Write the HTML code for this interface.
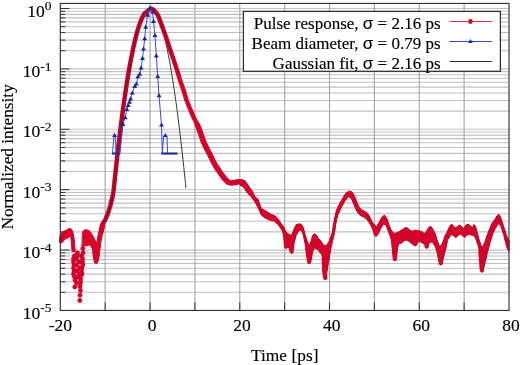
<!DOCTYPE html><html><head><meta charset="utf-8"><style>html,body{margin:0;padding:0;background:#fff;}svg{display:block;filter:blur(0.25px);}text{font-family:"Liberation Serif","DejaVu Serif",serif;fill:#000;stroke:#000;stroke-width:0.15px;}</style></head><body>
<svg width="520" height="365" viewBox="0 0 520 365">
<rect x="0" y="0" width="520" height="365" fill="#fff"/>
<g stroke="#c0c0c0" stroke-width="1.1">
<line x1="60.3" y1="292.32" x2="509.0" y2="292.32"/>
<line x1="60.3" y1="281.68" x2="509.0" y2="281.68"/>
<line x1="60.3" y1="274.14" x2="509.0" y2="274.14"/>
<line x1="60.3" y1="268.28" x2="509.0" y2="268.28"/>
<line x1="60.3" y1="263.50" x2="509.0" y2="263.50"/>
<line x1="60.3" y1="259.46" x2="509.0" y2="259.46"/>
<line x1="60.3" y1="255.95" x2="509.0" y2="255.95"/>
<line x1="60.3" y1="252.86" x2="509.0" y2="252.86"/>
<line x1="60.3" y1="250.10" x2="509.0" y2="250.10"/>
<line x1="60.3" y1="231.92" x2="509.0" y2="231.92"/>
<line x1="60.3" y1="221.28" x2="509.0" y2="221.28"/>
<line x1="60.3" y1="213.74" x2="509.0" y2="213.74"/>
<line x1="60.3" y1="207.88" x2="509.0" y2="207.88"/>
<line x1="60.3" y1="203.10" x2="509.0" y2="203.10"/>
<line x1="60.3" y1="199.06" x2="509.0" y2="199.06"/>
<line x1="60.3" y1="195.55" x2="509.0" y2="195.55"/>
<line x1="60.3" y1="192.46" x2="509.0" y2="192.46"/>
<line x1="60.3" y1="189.70" x2="509.0" y2="189.70"/>
<line x1="60.3" y1="171.52" x2="509.0" y2="171.52"/>
<line x1="60.3" y1="160.88" x2="509.0" y2="160.88"/>
<line x1="60.3" y1="153.34" x2="509.0" y2="153.34"/>
<line x1="60.3" y1="147.48" x2="509.0" y2="147.48"/>
<line x1="60.3" y1="142.70" x2="509.0" y2="142.70"/>
<line x1="60.3" y1="138.66" x2="509.0" y2="138.66"/>
<line x1="60.3" y1="135.15" x2="509.0" y2="135.15"/>
<line x1="60.3" y1="132.06" x2="509.0" y2="132.06"/>
<line x1="60.3" y1="129.30" x2="509.0" y2="129.30"/>
<line x1="60.3" y1="111.12" x2="509.0" y2="111.12"/>
<line x1="60.3" y1="100.48" x2="509.0" y2="100.48"/>
<line x1="60.3" y1="92.94" x2="509.0" y2="92.94"/>
<line x1="60.3" y1="87.08" x2="509.0" y2="87.08"/>
<line x1="60.3" y1="82.30" x2="509.0" y2="82.30"/>
<line x1="60.3" y1="78.26" x2="509.0" y2="78.26"/>
<line x1="60.3" y1="74.75" x2="509.0" y2="74.75"/>
<line x1="60.3" y1="71.66" x2="509.0" y2="71.66"/>
<line x1="60.3" y1="68.90" x2="509.0" y2="68.90"/>
<line x1="60.3" y1="50.72" x2="509.0" y2="50.72"/>
<line x1="60.3" y1="40.08" x2="509.0" y2="40.08"/>
<line x1="60.3" y1="32.54" x2="509.0" y2="32.54"/>
<line x1="60.3" y1="26.68" x2="509.0" y2="26.68"/>
<line x1="60.3" y1="21.90" x2="509.0" y2="21.90"/>
<line x1="60.3" y1="17.86" x2="509.0" y2="17.86"/>
<line x1="60.3" y1="14.35" x2="509.0" y2="14.35"/>
<line x1="60.3" y1="11.26" x2="509.0" y2="11.26"/>
<line x1="60.3" y1="8.50" x2="509.0" y2="8.50"/>
</g>
<g stroke="#aaaaaa" stroke-width="1.2">
<line x1="105.18" y1="3.45" x2="105.18" y2="310.45"/>
<line x1="150.05" y1="3.45" x2="150.05" y2="310.45"/>
<line x1="194.92" y1="3.45" x2="194.92" y2="310.45"/>
<line x1="239.79" y1="3.45" x2="239.79" y2="310.45"/>
<line x1="284.66" y1="3.45" x2="284.66" y2="310.45"/>
<line x1="329.53" y1="3.45" x2="329.53" y2="310.45"/>
<line x1="374.40" y1="3.45" x2="374.40" y2="310.45"/>
<line x1="419.27" y1="3.45" x2="419.27" y2="310.45"/>
<line x1="464.14" y1="3.45" x2="464.14" y2="310.45"/>
</g>
<g stroke="#333" stroke-width="1">
<line x1="60.3" y1="310.50" x2="69.3" y2="310.50"/>
<line x1="60.3" y1="292.32" x2="65.3" y2="292.32"/>
<line x1="60.3" y1="281.68" x2="65.3" y2="281.68"/>
<line x1="60.3" y1="274.14" x2="65.3" y2="274.14"/>
<line x1="60.3" y1="268.28" x2="65.3" y2="268.28"/>
<line x1="60.3" y1="263.50" x2="65.3" y2="263.50"/>
<line x1="60.3" y1="259.46" x2="65.3" y2="259.46"/>
<line x1="60.3" y1="255.95" x2="65.3" y2="255.95"/>
<line x1="60.3" y1="252.86" x2="65.3" y2="252.86"/>
<line x1="60.3" y1="250.10" x2="69.3" y2="250.10"/>
<line x1="60.3" y1="231.92" x2="65.3" y2="231.92"/>
<line x1="60.3" y1="221.28" x2="65.3" y2="221.28"/>
<line x1="60.3" y1="213.74" x2="65.3" y2="213.74"/>
<line x1="60.3" y1="207.88" x2="65.3" y2="207.88"/>
<line x1="60.3" y1="203.10" x2="65.3" y2="203.10"/>
<line x1="60.3" y1="199.06" x2="65.3" y2="199.06"/>
<line x1="60.3" y1="195.55" x2="65.3" y2="195.55"/>
<line x1="60.3" y1="192.46" x2="65.3" y2="192.46"/>
<line x1="60.3" y1="189.70" x2="69.3" y2="189.70"/>
<line x1="60.3" y1="171.52" x2="65.3" y2="171.52"/>
<line x1="60.3" y1="160.88" x2="65.3" y2="160.88"/>
<line x1="60.3" y1="153.34" x2="65.3" y2="153.34"/>
<line x1="60.3" y1="147.48" x2="65.3" y2="147.48"/>
<line x1="60.3" y1="142.70" x2="65.3" y2="142.70"/>
<line x1="60.3" y1="138.66" x2="65.3" y2="138.66"/>
<line x1="60.3" y1="135.15" x2="65.3" y2="135.15"/>
<line x1="60.3" y1="132.06" x2="65.3" y2="132.06"/>
<line x1="60.3" y1="129.30" x2="69.3" y2="129.30"/>
<line x1="60.3" y1="111.12" x2="65.3" y2="111.12"/>
<line x1="60.3" y1="100.48" x2="65.3" y2="100.48"/>
<line x1="60.3" y1="92.94" x2="65.3" y2="92.94"/>
<line x1="60.3" y1="87.08" x2="65.3" y2="87.08"/>
<line x1="60.3" y1="82.30" x2="65.3" y2="82.30"/>
<line x1="60.3" y1="78.26" x2="65.3" y2="78.26"/>
<line x1="60.3" y1="74.75" x2="65.3" y2="74.75"/>
<line x1="60.3" y1="71.66" x2="65.3" y2="71.66"/>
<line x1="60.3" y1="68.90" x2="69.3" y2="68.90"/>
<line x1="60.3" y1="50.72" x2="65.3" y2="50.72"/>
<line x1="60.3" y1="40.08" x2="65.3" y2="40.08"/>
<line x1="60.3" y1="32.54" x2="65.3" y2="32.54"/>
<line x1="60.3" y1="26.68" x2="65.3" y2="26.68"/>
<line x1="60.3" y1="21.90" x2="65.3" y2="21.90"/>
<line x1="60.3" y1="17.86" x2="65.3" y2="17.86"/>
<line x1="60.3" y1="14.35" x2="65.3" y2="14.35"/>
<line x1="60.3" y1="11.26" x2="65.3" y2="11.26"/>
<line x1="60.3" y1="8.50" x2="69.3" y2="8.50"/>
<line x1="105.18" y1="310.45" x2="105.18" y2="302.45"/>
<line x1="150.05" y1="310.45" x2="150.05" y2="302.45"/>
<line x1="194.92" y1="310.45" x2="194.92" y2="302.45"/>
<line x1="239.79" y1="310.45" x2="239.79" y2="302.45"/>
<line x1="284.66" y1="310.45" x2="284.66" y2="302.45"/>
<line x1="329.53" y1="310.45" x2="329.53" y2="302.45"/>
<line x1="374.40" y1="310.45" x2="374.40" y2="302.45"/>
<line x1="419.27" y1="310.45" x2="419.27" y2="302.45"/>
<line x1="464.14" y1="310.45" x2="464.14" y2="302.45"/>
</g>
<polyline points="114.15,188.10 114.60,183.63 115.05,179.22 115.50,174.86 115.95,170.56 116.40,166.32 116.85,162.13 117.29,158.00 117.74,153.92 118.19,149.90 118.64,145.94 119.09,142.03 119.54,138.18 119.99,134.39 120.44,130.65 120.88,126.96 121.33,123.34 121.78,119.77 122.23,116.25 122.68,112.80 123.13,109.40 123.58,106.05 124.03,102.76 124.47,99.53 124.92,96.35 125.37,93.23 125.82,90.17 126.27,87.16 126.72,84.21 127.17,81.31 127.62,78.48 128.06,75.69 128.51,72.97 128.96,70.29 129.41,67.68 129.86,65.12 130.31,62.62 130.76,60.18 131.20,57.79 131.65,55.45 132.10,53.18 132.55,50.96 133.00,48.79 133.45,46.68 133.90,44.63 134.35,42.63 134.79,40.70 135.24,38.81 135.69,36.98 136.14,35.21 136.59,33.50 137.04,31.84 137.49,30.24 137.94,28.69 138.38,27.20 138.83,25.77 139.28,24.39 139.73,23.07 140.18,21.81 140.63,20.60 141.08,19.44 141.52,18.35 141.97,17.31 142.42,16.32 142.87,15.40 143.32,14.52 143.77,13.71 144.22,12.95 144.67,12.25 145.11,11.60 145.56,11.01 146.01,10.48 146.46,10.00 146.91,9.58 147.36,9.21 147.81,8.90 148.26,8.65 148.70,8.45 149.15,8.31 149.60,8.23 150.05,8.20 150.50,8.23 150.95,8.31 151.40,8.45 151.84,8.65 152.29,8.90 152.74,9.21 153.19,9.58 153.64,10.00 154.09,10.48 154.54,11.01 154.99,11.60 155.43,12.25 155.88,12.95 156.33,13.71 156.78,14.52 157.23,15.40 157.68,16.32 158.13,17.31 158.58,18.35 159.02,19.44 159.47,20.60 159.92,21.81 160.37,23.07 160.82,24.39 161.27,25.77 161.72,27.20 162.16,28.69 162.61,30.24 163.06,31.84 163.51,33.50 163.96,35.21 164.41,36.98 164.86,38.81 165.31,40.70 165.75,42.63 166.20,44.63 166.65,46.68 167.10,48.79 167.55,50.96 168.00,53.18 168.45,55.45 168.90,57.79 169.34,60.18 169.79,62.62 170.24,65.12 170.69,67.68 171.14,70.29 171.59,72.97 172.04,75.69 172.49,78.48 172.93,81.31 173.38,84.21 173.83,87.16 174.28,90.17 174.73,93.23 175.18,96.35 175.63,99.53 176.07,102.76 176.52,106.05 176.97,109.40 177.42,112.80 177.87,116.25 178.32,119.77 178.77,123.34 179.22,126.96 179.66,130.65 180.11,134.39 180.56,138.18 181.01,142.03 181.46,145.94 181.91,149.90 182.36,153.92 182.81,158.00 183.25,162.13 183.70,166.32 184.15,170.56 184.60,174.86 185.05,179.22 185.50,183.63 185.95,188.10" fill="none" stroke="#333" stroke-width="1"/>
<g fill="#d4042b" stroke="#d4042b" stroke-linejoin="round" stroke-linecap="round">
<defs><linearGradient id="gm" gradientUnits="userSpaceOnUse" x1="160" y1="0" x2="182" y2="0"><stop offset="0" stop-color="#c0082e"/><stop offset="1" stop-color="#da062e"/></linearGradient><linearGradient id="gc" gradientUnits="userSpaceOnUse" x1="160" y1="0" x2="182" y2="0"><stop offset="0" stop-color="#9c0628"/><stop offset="1" stop-color="#cc0428"/></linearGradient></defs>
<polyline points="101.40,232.00 101.90,225.60 103.40,222.60 105.30,219.70 107.80,213.80 110.30,205.90 112.70,196.00 113.68,190.00 114.21,184.82 114.74,179.64 115.29,174.46 115.84,169.29 116.40,164.11 116.97,158.93 117.55,153.75 118.14,148.57 118.74,143.39 119.35,138.21 119.98,133.04 120.61,127.86 121.27,122.68 121.93,117.50 122.62,112.32 123.32,107.14 124.04,101.96 124.78,96.79 125.54,91.61 126.33,86.43 127.14,81.25 127.98,76.07 128.86,70.89 129.77,65.71 130.73,60.54 131.73,55.36 132.79,50.18 133.92,45.00 135.14,39.82 136.46,34.64 137.92,29.46 139.58,24.29 141.55,19.11 144.11,13.93 150.30,8.75 151.94,9.06 153.58,9.99 155.22,11.53 156.86,13.69 158.50,16.48 162.80,28.10 167.00,40.00 170.30,50.00 173.70,60.00 177.00,70.00 180.00,80.00 183.50,90.00 186.50,100.00 190.50,110.00 194.00,118.00 197.40,124.80 200.50,133.00 203.60,142.00 206.50,148.00 209.80,154.40 213.00,161.00 216.00,166.50 218.50,170.00 221.00,173.90 224.50,178.50 228.00,182.20 231.50,182.90 235.00,182.40 237.70,181.80 240.30,181.80 243.00,182.60 245.60,185.50 248.00,189.50" fill="none" stroke="url(#gm)" stroke-width="4.5"/>
<polyline points="101.40,232.00 101.90,225.60 103.40,222.60 105.30,219.70 107.80,213.80 110.30,205.90 112.70,196.00 113.68,190.00 114.21,184.82 114.74,179.64 115.29,174.46 115.84,169.29 116.40,164.11 116.97,158.93 117.55,153.75 118.14,148.57 118.74,143.39 119.35,138.21 119.98,133.04 120.61,127.86 121.27,122.68 121.93,117.50 122.62,112.32 123.32,107.14 124.04,101.96 124.78,96.79 125.54,91.61 126.33,86.43 127.14,81.25 127.98,76.07 128.86,70.89 129.77,65.71 130.73,60.54 131.73,55.36 132.79,50.18 133.92,45.00 135.14,39.82 136.46,34.64 137.92,29.46 139.58,24.29 141.55,19.11 144.11,13.93 150.30,8.75 151.94,9.06 153.58,9.99 155.22,11.53 156.86,13.69 158.50,16.48 162.80,28.10 167.00,40.00 170.30,50.00 173.70,60.00 177.00,70.00 180.00,80.00 183.50,90.00 186.50,100.00 190.50,110.00 194.00,118.00 197.40,124.80 200.50,133.00 203.60,142.00 206.50,148.00 209.80,154.40 213.00,161.00 216.00,166.50 218.50,170.00 221.00,173.90 224.50,178.50 228.00,182.20 231.50,182.90 235.00,182.40 237.70,181.80 240.30,181.80 243.00,182.60 245.60,185.50 248.00,189.50" fill="none" stroke="url(#gc)" stroke-width="1.6"/>
<polyline points="197.40,124.80 200.50,133.00 203.60,142.00 206.50,148.00 209.80,154.40 213.00,161.00 216.00,166.50 218.50,170.00 221.00,173.90 224.50,178.50 228.00,182.20 231.50,182.90 235.00,182.40 237.70,181.80 240.30,181.80 243.00,182.60 245.60,185.50 248.00,189.50" fill="none" stroke="#d8062c" stroke-width="5.6"/>
<polyline points="197.40,124.80 200.50,133.00 203.60,142.00 206.50,148.00 209.80,154.40 213.00,161.00 216.00,166.50 218.50,170.00 221.00,173.90 224.50,178.50 228.00,182.20 231.50,182.90 235.00,182.40 237.70,181.80 240.30,181.80 243.00,182.60 245.60,185.50 248.00,189.50" fill="none" stroke="#c80428" stroke-width="1.6"/>
<polygon points="240.00,179.50 244.90,180.70 248.20,187.30 251.50,189.70 254.80,196.30 258.10,199.60 261.40,208.60 264.70,210.30 271.20,214.40 275.40,216.00 278.50,219.60 281.00,223.30 283.60,226.50 286.10,232.20 288.60,234.10 290.50,235.30 292.40,233.40 294.30,228.40 296.20,224.60 298.10,224.00 300.60,223.90 302.60,225.90 303.90,229.80 305.20,235.10 307.20,241.00 309.20,245.60 311.20,241.00 312.50,235.80 314.40,233.80 316.40,235.10 318.40,238.40 320.10,240.20 321.50,242.00 323.50,245.00 326.30,245.70 329.00,241.60 331.10,236.10 332.40,232.00 333.20,226.00 334.50,219.00 336.40,210.30 339.70,203.20 343.00,197.70 346.20,192.80 349.50,191.10 352.30,192.20 354.50,196.10 356.70,201.50 358.80,206.50 361.60,209.80 364.90,211.40 368.20,214.10 369.10,215.70 372.10,221.80 374.40,224.90 376.70,226.40 379.00,222.60 381.30,218.00 384.40,214.90 386.70,218.00 389.00,224.90 391.30,230.20 393.60,233.30 396.80,232.90 399.10,231.50 401.90,230.10 404.30,228.30 406.10,227.30 408.00,228.30 410.30,230.60 412.60,231.00 415.40,230.10 418.20,230.60 421.70,231.50 424.50,233.70 426.70,230.80 428.80,227.30 431.00,226.50 433.10,229.40 435.20,233.70 437.40,240.80 439.50,246.50 441.60,245.10 443.80,239.40 445.20,235.10 446.60,233.30 448.80,228.00 451.00,224.50 452.80,225.00 454.50,227.60 456.70,227.20 459.40,225.00 461.50,226.30 463.70,228.90 465.90,225.00 468.10,224.10 470.30,225.80 472.50,227.50 474.00,224.50 475.60,226.50 477.40,233.50 479.20,239.80 481.00,245.30 482.80,247.10 484.70,242.50 486.50,237.10 489.20,229.90 491.90,223.60 494.60,219.90 497.30,215.40 499.10,214.50 500.90,218.10 503.60,226.30 506.40,235.30 509.10,240.70 509.10,251.60 507.30,248.90 505.50,242.50 503.60,234.40 500.90,226.30 498.20,223.60 495.50,228.10 492.80,233.50 490.10,242.50 487.40,252.50 485.60,260.60 483.80,267.90 481.90,272.40 481.00,264.20 480.10,255.20 478.30,246.20 475.50,238.00 473.40,235.50 471.20,235.00 469.00,234.20 466.40,235.50 464.60,237.70 462.90,235.90 460.70,234.20 458.00,235.50 455.80,237.70 454.10,235.90 451.90,234.60 449.70,236.80 447.50,240.30 445.90,248.60 444.50,253.60 443.10,259.30 441.60,265.00 440.20,265.00 438.80,260.70 437.40,253.60 435.20,246.50 432.40,242.20 429.50,242.20 428.10,246.50 426.70,248.60 425.30,245.10 422.40,242.90 419.20,241.30 417.30,243.20 415.40,246.00 413.60,245.00 411.20,243.20 408.90,241.30 406.10,239.90 403.30,241.30 401.50,243.20 398.70,243.60 397.40,249.40 396.70,257.10 395.10,260.90 393.60,258.60 392.80,250.90 392.10,243.30 390.50,237.10 388.20,231.00 385.90,224.90 383.60,224.10 380.60,228.70 378.30,234.10 376.00,236.40 374.40,234.10 372.10,227.90 369.10,222.60 367.10,219.60 363.80,216.90 361.00,215.80 358.30,213.60 355.60,208.70 353.40,203.20 351.20,198.20 348.40,196.60 344.60,201.50 341.30,207.60 338.00,214.70 336.50,220.00 335.50,226.00 334.50,233.40 333.10,238.80 331.10,247.10 329.70,255.30 328.30,263.50 327.00,271.70 325.30,280.00 323.50,275.80 323.50,270.40 323.50,262.10 321.80,254.50 319.20,251.50 317.10,248.90 314.40,248.30 312.50,252.20 311.20,260.10 309.20,264.00 307.90,260.10 306.60,252.20 305.20,244.30 303.30,235.10 301.30,229.80 298.70,230.90 296.20,235.30 294.30,242.30 293.00,249.80 291.80,253.60 289.90,249.80 288.00,246.70 286.10,248.60 284.80,239.70 282.30,230.90 279.20,225.90 274.50,221.20 269.60,220.20 264.70,217.70 261.40,215.20 258.90,209.50 255.60,202.90 251.50,197.10 247.40,193.00 244.90,188.10 240.00,185.00" stroke="#b8021f" stroke-width="1"/>
<polyline points="285.30,236.00 286.10,246.40" fill="none" stroke-width="4.4"/>
<polyline points="290.50,240.00 291.60,251.40" fill="none" stroke-width="4.4"/>
<polyline points="307.30,248.00 309.20,261.80" fill="none" stroke-width="4.4"/>
<polyline points="323.80,258.00 324.20,270.00 325.30,277.80" fill="none" stroke-width="4.4"/>
<polyline points="375.30,230.00 376.00,234.20" fill="none" stroke-width="4.4"/>
<polyline points="393.30,242.00 394.90,258.70" fill="none" stroke-width="4.4"/>
<polyline points="414.50,239.00 415.40,243.80" fill="none" stroke-width="4.4"/>
<polyline points="426.30,240.00 426.70,246.40" fill="none" stroke-width="4.4"/>
<polyline points="438.80,250.00 440.90,262.80" fill="none" stroke-width="4.4"/>
<polyline points="480.50,252.00 481.90,270.20" fill="none" stroke-width="4.4"/>
<polygon points="59.80,237.00 61.50,233.00 63.00,231.50 65.10,230.80 67.50,229.50 69.40,228.30 71.30,229.00 72.50,231.00 73.50,235.00 74.40,241.00 75.20,251.50 72.00,251.50 71.50,244.00 70.80,238.00 70.50,236.10 67.30,238.30 65.10,239.00 62.30,242.50 60.50,243.50 59.60,242.00" stroke-width="1"/>
<polygon points="82.70,231.70 84.90,229.50 89.30,230.60 92.10,234.40 95.30,240.50 96.80,243.00 98.10,235.00 99.70,228.00 101.00,224.00 104.70,224.00 104.70,226.20 102.50,233.90 100.80,242.60 99.70,251.40 98.60,260.20 97.00,263.50 94.50,263.00 93.20,256.00 92.60,249.20 89.90,244.80 86.60,245.90 82.20,246.00" stroke-width="1"/>
</g>
<g fill="#d4042b">
<circle cx="77.50" cy="253.00" r="2.4"/>
<circle cx="74.50" cy="256.00" r="2.4"/>
<circle cx="77.50" cy="256.00" r="2.4"/>
<circle cx="81.50" cy="256.00" r="2.4"/>
<circle cx="73.50" cy="259.00" r="2.4"/>
<circle cx="76.50" cy="259.00" r="2.4"/>
<circle cx="82.50" cy="259.00" r="2.4"/>
<circle cx="73.50" cy="262.00" r="2.4"/>
<circle cx="79.00" cy="262.00" r="2.4"/>
<circle cx="82.50" cy="262.00" r="2.4"/>
<circle cx="74.00" cy="265.00" r="2.4"/>
<circle cx="76.50" cy="265.00" r="2.4"/>
<circle cx="82.70" cy="265.00" r="2.4"/>
<circle cx="73.50" cy="268.00" r="2.4"/>
<circle cx="79.50" cy="268.00" r="2.4"/>
<circle cx="82.00" cy="268.00" r="2.4"/>
<circle cx="74.00" cy="271.00" r="2.4"/>
<circle cx="76.80" cy="271.00" r="2.4"/>
<circle cx="81.50" cy="271.00" r="2.4"/>
<circle cx="73.50" cy="274.00" r="2.4"/>
<circle cx="79.50" cy="274.00" r="2.4"/>
<circle cx="82.00" cy="274.00" r="2.4"/>
<circle cx="74.50" cy="277.00" r="2.4"/>
<circle cx="77.50" cy="277.00" r="2.4"/>
<circle cx="80.50" cy="277.00" r="2.4"/>
<circle cx="75.00" cy="280.00" r="2.4"/>
<circle cx="80.50" cy="280.00" r="2.4"/>
<circle cx="76.50" cy="283.00" r="2.4"/>
<circle cx="80.50" cy="283.00" r="2.4"/>
<circle cx="74.80" cy="286.90" r="2.4"/>
<circle cx="80.00" cy="286.50" r="2.4"/>
<circle cx="80.50" cy="290.50" r="2.4"/>
<circle cx="80.00" cy="295.20" r="2.4"/>
<circle cx="79.80" cy="300.50" r="2.4"/>
<circle cx="82.80" cy="248.50" r="2.4"/>
<circle cx="83.10" cy="252.80" r="2.4"/>
</g>
<polyline points="112.50,153.50 113.80,137.00 114.60,135.40 115.40,137.00 116.00,153.50 120.00,153.50 122.90,124.30 125.20,117.70 126.80,109.50 128.20,105.40 129.50,102.10 130.60,98.80 132.30,93.00 134.70,86.40 136.40,84.00 138.00,76.60 139.70,74.10 141.10,68.00 142.50,58.40 143.50,49.00 144.70,38.70 145.80,27.10 147.60,15.10 150.40,7.90 152.60,12.00 153.50,21.40 155.00,35.40 156.30,55.80 157.70,76.40 159.00,95.60 161.50,125.00 162.30,153.50 163.60,137.00 165.30,135.50 167.00,137.00 167.60,153.50 177.00,153.50" fill="none" stroke="#3050d0" stroke-width="1"/>
<g fill="#1c2a9c">
<rect x="112.2" y="152.5" width="7.60" height="2.10"/>
<rect x="161.3" y="152.5" width="16.20" height="2.10"/>
<path d="M114.60,132.80 L117.10,137.00 L112.10,137.00 Z"/>
<path d="M122.90,121.70 L125.40,125.90 L120.40,125.90 Z"/>
<path d="M125.20,115.10 L127.70,119.30 L122.70,119.30 Z"/>
<path d="M126.80,106.90 L129.30,111.10 L124.30,111.10 Z"/>
<path d="M128.20,102.80 L130.70,107.00 L125.70,107.00 Z"/>
<path d="M129.50,99.50 L132.00,103.70 L127.00,103.70 Z"/>
<path d="M130.60,96.20 L133.10,100.40 L128.10,100.40 Z"/>
<path d="M132.30,90.40 L134.80,94.60 L129.80,94.60 Z"/>
<path d="M134.70,83.80 L137.20,88.00 L132.20,88.00 Z"/>
<path d="M136.40,81.40 L138.90,85.60 L133.90,85.60 Z"/>
<path d="M138.00,74.00 L140.50,78.20 L135.50,78.20 Z"/>
<path d="M139.70,71.50 L142.20,75.70 L137.20,75.70 Z"/>
<path d="M141.10,65.40 L143.60,69.60 L138.60,69.60 Z"/>
<path d="M142.50,55.80 L145.00,60.00 L140.00,60.00 Z"/>
<path d="M143.50,46.40 L146.00,50.60 L141.00,50.60 Z"/>
<path d="M144.70,36.10 L147.20,40.30 L142.20,40.30 Z"/>
<path d="M145.80,24.50 L148.30,28.70 L143.30,28.70 Z"/>
<path d="M147.60,12.50 L150.10,16.70 L145.10,16.70 Z"/>
<path d="M150.40,5.30 L152.90,9.50 L147.90,9.50 Z"/>
<path d="M152.60,9.40 L155.10,13.60 L150.10,13.60 Z"/>
<path d="M153.50,18.80 L156.00,23.00 L151.00,23.00 Z"/>
<path d="M155.00,32.80 L157.50,37.00 L152.50,37.00 Z"/>
<path d="M156.30,53.20 L158.80,57.40 L153.80,57.40 Z"/>
<path d="M157.70,73.80 L160.20,78.00 L155.20,78.00 Z"/>
<path d="M159.00,93.00 L161.50,97.20 L156.50,97.20 Z"/>
<path d="M161.50,122.40 L164.00,126.60 L159.00,126.60 Z"/>
<path d="M165.30,132.90 L167.80,137.10 L162.80,137.10 Z"/>
</g>
<rect x="60.3" y="3.45" width="448.70" height="307.00" fill="none" stroke="#333" stroke-width="1.15"/>
<rect x="243.4" y="11.4" width="257.00" height="59.90" fill="#fff" stroke="#333" stroke-width="1.3"/>
<text x="440.5" y="28.5" font-size="17" text-anchor="end">Pulse response, <tspan style="font-family:'Liberation Sans',sans-serif">σ</tspan> = 2.16 ps</text>
<line x1="449.5" y1="21.5" x2="492" y2="21.5" stroke="#d83048" stroke-width="1"/>
<text x="440.5" y="48.5" font-size="17" text-anchor="end">Beam diameter, <tspan style="font-family:'Liberation Sans',sans-serif">σ</tspan> = 0.79 ps</text>
<line x1="449.5" y1="41.5" x2="492" y2="41.5" stroke="#3050d0" stroke-width="1"/>
<text x="440.5" y="68.5" font-size="17" text-anchor="end">Gaussian fit, <tspan style="font-family:'Liberation Sans',sans-serif">σ</tspan> = 2.16 ps</text>
<line x1="449.5" y1="61.5" x2="492" y2="61.5" stroke="#333" stroke-width="1"/>
<circle cx="470.5" cy="21.5" r="2.4" fill="#c00828"/>
<path d="M470.5,38.9 L472.9,43 L468.1,43 Z" fill="#1c2a9c"/>
<text x="60.31" y="331" font-size="17.5" text-anchor="middle">-20</text>
<text x="152.15" y="331" font-size="17.5" text-anchor="middle">0</text>
<text x="241.89" y="331" font-size="17.5" text-anchor="middle">20</text>
<text x="331.63" y="331" font-size="17.5" text-anchor="middle">40</text>
<text x="421.37" y="331" font-size="17.5" text-anchor="middle">60</text>
<text x="511.11" y="331" font-size="17.5" text-anchor="middle">80</text>
<text x="284.7" y="360.5" font-size="17.4" text-anchor="middle">Time [ps]</text>
<text x="51.5" y="16.60" font-size="17.5" text-anchor="end">10<tspan font-size="13.5" dy="-6.4">0</tspan></text>
<text x="51.5" y="77.00" font-size="17.5" text-anchor="end">10<tspan font-size="13.5" dy="-6.4">-1</tspan></text>
<text x="51.5" y="137.40" font-size="17.5" text-anchor="end">10<tspan font-size="13.5" dy="-6.4">-2</tspan></text>
<text x="51.5" y="197.80" font-size="17.5" text-anchor="end">10<tspan font-size="13.5" dy="-6.4">-3</tspan></text>
<text x="51.5" y="258.20" font-size="17.5" text-anchor="end">10<tspan font-size="13.5" dy="-6.4">-4</tspan></text>
<text x="51.5" y="318.60" font-size="17.5" text-anchor="end">10<tspan font-size="13.5" dy="-6.4">-5</tspan></text>
<text transform="translate(12.6,156.9) rotate(-90)" font-size="17.3" text-anchor="middle">Normalized intensity</text>
</svg></body></html>
